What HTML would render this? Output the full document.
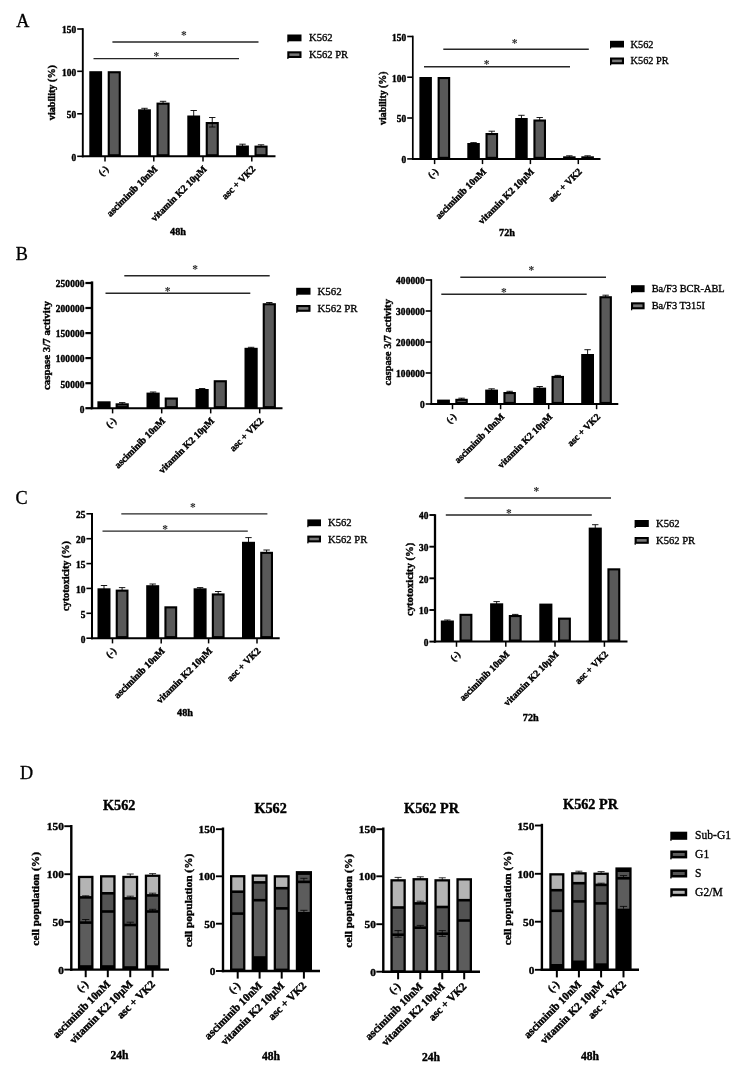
<!DOCTYPE html>
<html lang="en">
<head>
<meta charset="utf-8">
<title>Figure</title>
<style>
html,body{margin:0;padding:0;background:#fff;}
body{width:744px;height:1076px;overflow:hidden;font-family:"Liberation Serif","Times New Roman",serif;}
svg{display:block;}
</style>
</head>
<body>
<svg width="744" height="1076" viewBox="0 0 744 1076">
<rect x="0" y="0" width="744" height="1076" fill="#fff"/>
<g font-family="'Liberation Serif', 'Times New Roman', serif">
<text x="16.3" y="27" font-size="18.2" stroke="#000" stroke-width="0.32">A</text>
<text x="15.8" y="260.2" font-size="18.2" stroke="#000" stroke-width="0.32">B</text>
<text x="15.6" y="503.6" font-size="18.2" stroke="#000" stroke-width="0.32">C</text>
<text x="20.1" y="779.2" font-size="18.2" stroke="#000" stroke-width="0.32">D</text>
<rect x="89.3" y="71.2" width="12.8" height="85.1" fill="#000"/>
<rect x="108.75" y="72.25" width="11" height="83" fill="#595959" stroke="#000" stroke-width="2.1"/>
<line x1="144.5" y1="108.3" x2="144.5" y2="110.3" stroke="#000" stroke-width="0.9"/>
<line x1="141.3" y1="108.3" x2="147.7" y2="108.3" stroke="#000" stroke-width="0.9"/>
<line x1="163.05" y1="101.3" x2="163.05" y2="103.6" stroke="#000" stroke-width="0.9"/>
<line x1="159.85" y1="101.3" x2="166.25" y2="101.3" stroke="#000" stroke-width="0.9"/>
<rect x="138.1" y="109.3" width="12.8" height="47" fill="#000"/>
<rect x="157.55" y="103.65" width="11" height="51.6" fill="#595959" stroke="#000" stroke-width="2.1"/>
<line x1="193.7" y1="110.5" x2="193.7" y2="116.5" stroke="#000" stroke-width="0.9"/>
<line x1="190.5" y1="110.5" x2="196.9" y2="110.5" stroke="#000" stroke-width="0.9"/>
<line x1="212.25" y1="117.5" x2="212.25" y2="123" stroke="#000" stroke-width="0.9"/>
<line x1="209.05" y1="117.5" x2="215.45" y2="117.5" stroke="#000" stroke-width="0.9"/>
<rect x="187.3" y="115.5" width="12.8" height="40.8" fill="#000"/>
<rect x="206.75" y="123.05" width="11" height="32.2" fill="#595959" stroke="#000" stroke-width="2.1"/>
<line x1="212.25" y1="122" x2="212.25" y2="127" stroke="#000" stroke-width="0.9"/>
<line x1="209.05" y1="127" x2="215.45" y2="127" stroke="#000" stroke-width="0.9"/>
<line x1="242.5" y1="144.2" x2="242.5" y2="146.5" stroke="#000" stroke-width="0.9"/>
<line x1="239.3" y1="144.2" x2="245.7" y2="144.2" stroke="#000" stroke-width="0.9"/>
<line x1="261.05" y1="144.8" x2="261.05" y2="146.6" stroke="#000" stroke-width="0.9"/>
<line x1="257.85" y1="144.8" x2="264.25" y2="144.8" stroke="#000" stroke-width="0.9"/>
<rect x="236.1" y="145.5" width="12.8" height="10.8" fill="#000"/>
<rect x="255.55" y="146.65" width="11" height="8.6" fill="#595959" stroke="#000" stroke-width="2.1"/>
<line x1="82.8" y1="28.2" x2="82.8" y2="157.3" stroke="#000" stroke-width="1.9"/>
<line x1="81.85" y1="156.3" x2="275.5" y2="156.3" stroke="#000" stroke-width="2"/>
<line x1="77.2" y1="29" x2="82.8" y2="29" stroke="#000" stroke-width="1.6"/>
<text x="76.4" y="33.3" font-size="9.4" font-weight="bold" stroke="#000" stroke-width="0.4" text-anchor="end" letter-spacing="0.12">150</text>
<line x1="77.2" y1="71.3" x2="82.8" y2="71.3" stroke="#000" stroke-width="1.6"/>
<text x="76.4" y="75.6" font-size="9.4" font-weight="bold" stroke="#000" stroke-width="0.4" text-anchor="end" letter-spacing="0.12">100</text>
<line x1="77.2" y1="113.8" x2="82.8" y2="113.8" stroke="#000" stroke-width="1.6"/>
<text x="76.4" y="118.1" font-size="9.4" font-weight="bold" stroke="#000" stroke-width="0.4" text-anchor="end" letter-spacing="0.12">50</text>
<line x1="77.2" y1="156.3" x2="82.8" y2="156.3" stroke="#000" stroke-width="1.6"/>
<text x="76.4" y="160.6" font-size="9.4" font-weight="bold" stroke="#000" stroke-width="0.4" text-anchor="end" letter-spacing="0.12">0</text>
<line x1="105" y1="156.3" x2="105" y2="161.5" stroke="#000" stroke-width="1.5"/>
<text x="109.2" y="169.6" font-size="9.8" font-weight="bold" stroke="#000" stroke-width="0.4" text-anchor="end" transform="rotate(-45 109.2 169.6)">(-)</text>
<line x1="153.8" y1="156.3" x2="153.8" y2="161.5" stroke="#000" stroke-width="1.5"/>
<text x="158" y="169.6" font-size="9.8" font-weight="bold" stroke="#000" stroke-width="0.4" text-anchor="end" transform="rotate(-45 158 169.6)">asciminib 10nM</text>
<line x1="203" y1="156.3" x2="203" y2="161.5" stroke="#000" stroke-width="1.5"/>
<text x="207.2" y="169.6" font-size="9.8" font-weight="bold" stroke="#000" stroke-width="0.4" text-anchor="end" transform="rotate(-45 207.2 169.6)">vitamin K2 10µM</text>
<line x1="251.8" y1="156.3" x2="251.8" y2="161.5" stroke="#000" stroke-width="1.5"/>
<text x="256" y="169.6" font-size="9.8" font-weight="bold" stroke="#000" stroke-width="0.4" text-anchor="end" transform="rotate(-45 256 169.6)">asc + VK2</text>
<text x="54.8" y="92.6" font-size="10.2" font-weight="bold" stroke="#000" stroke-width="0.4" text-anchor="middle" transform="rotate(-90 54.8 92.6)">viability (%)</text>
<line x1="112.4" y1="42" x2="258.5" y2="42" stroke="#262626" stroke-width="1.4"/>
<text x="183.8" y="39.2" font-size="11.5" font-weight="bold" text-anchor="middle" fill="#2a2a2a">*</text>
<line x1="93.5" y1="58.6" x2="239" y2="58.6" stroke="#262626" stroke-width="1.4"/>
<text x="156.3" y="60.3" font-size="11.5" font-weight="bold" text-anchor="middle" fill="#2a2a2a">*</text>
<rect x="287.3" y="34.5" width="14.2" height="6.8" fill="#000"/>
<rect x="287.3" y="40.8" width="1.2" height="1.5" fill="#000"/>
<text x="309" y="41.4" font-size="10.6" stroke="#000" stroke-width="0.32">K562</text>
<rect x="288.35" y="52.35" width="12.1" height="4.6" fill="#777" stroke="#000" stroke-width="2.1"/>
<rect x="287.3" y="57.5" width="1.2" height="1.5" fill="#000"/>
<text x="309" y="58.1" font-size="10.6" stroke="#000" stroke-width="0.32">K562 PR</text>
<text x="178" y="235.2" font-size="10.2" font-weight="bold" stroke="#000" stroke-width="0.4" text-anchor="middle">48h</text>
<rect x="419.4" y="77" width="12.5" height="81.9" fill="#000"/>
<rect x="438.65" y="78.05" width="10.5" height="79.8" fill="#595959" stroke="#000" stroke-width="2.1"/>
<line x1="473.55" y1="142.6" x2="473.55" y2="144" stroke="#000" stroke-width="0.9"/>
<line x1="470.35" y1="142.6" x2="476.75" y2="142.6" stroke="#000" stroke-width="0.9"/>
<line x1="491.8" y1="131.2" x2="491.8" y2="134" stroke="#000" stroke-width="0.9"/>
<line x1="488.6" y1="131.2" x2="495" y2="131.2" stroke="#000" stroke-width="0.9"/>
<rect x="467.3" y="143" width="12.5" height="15.9" fill="#000"/>
<rect x="486.55" y="134.05" width="10.5" height="23.8" fill="#595959" stroke="#000" stroke-width="2.1"/>
<line x1="521.45" y1="115.3" x2="521.45" y2="119" stroke="#000" stroke-width="0.9"/>
<line x1="518.25" y1="115.3" x2="524.65" y2="115.3" stroke="#000" stroke-width="0.9"/>
<line x1="539.7" y1="117.5" x2="539.7" y2="120.5" stroke="#000" stroke-width="0.9"/>
<line x1="536.5" y1="117.5" x2="542.9" y2="117.5" stroke="#000" stroke-width="0.9"/>
<rect x="515.2" y="118" width="12.5" height="40.9" fill="#000"/>
<rect x="534.45" y="120.55" width="10.5" height="37.3" fill="#595959" stroke="#000" stroke-width="2.1"/>
<line x1="569.35" y1="155.8" x2="569.35" y2="157.3" stroke="#000" stroke-width="0.9"/>
<line x1="566.15" y1="155.8" x2="572.55" y2="155.8" stroke="#000" stroke-width="0.9"/>
<line x1="587.6" y1="155.8" x2="587.6" y2="157.3" stroke="#000" stroke-width="0.9"/>
<line x1="584.4" y1="155.8" x2="590.8" y2="155.8" stroke="#000" stroke-width="0.9"/>
<rect x="563.1" y="156.3" width="12.5" height="2.6" fill="#000"/>
<rect x="582.35" y="157.35" width="10.5" height="0.5" fill="#595959" stroke="#000" stroke-width="2.1"/>
<line x1="412.8" y1="35.7" x2="412.8" y2="159.9" stroke="#000" stroke-width="1.7"/>
<line x1="411.95" y1="158.9" x2="600.5" y2="158.9" stroke="#000" stroke-width="2"/>
<line x1="407.2" y1="36.5" x2="412.8" y2="36.5" stroke="#000" stroke-width="1.6"/>
<text x="406.4" y="40.8" font-size="9.4" font-weight="bold" stroke="#000" stroke-width="0.4" text-anchor="end" letter-spacing="0.12">150</text>
<line x1="407.2" y1="77.2" x2="412.8" y2="77.2" stroke="#000" stroke-width="1.6"/>
<text x="406.4" y="81.5" font-size="9.4" font-weight="bold" stroke="#000" stroke-width="0.4" text-anchor="end" letter-spacing="0.12">100</text>
<line x1="407.2" y1="118" x2="412.8" y2="118" stroke="#000" stroke-width="1.6"/>
<text x="406.4" y="122.3" font-size="9.4" font-weight="bold" stroke="#000" stroke-width="0.4" text-anchor="end" letter-spacing="0.12">50</text>
<line x1="407.2" y1="158.9" x2="412.8" y2="158.9" stroke="#000" stroke-width="1.6"/>
<text x="406.4" y="163.2" font-size="9.4" font-weight="bold" stroke="#000" stroke-width="0.4" text-anchor="end" letter-spacing="0.12">0</text>
<line x1="434.6" y1="158.9" x2="434.6" y2="164.1" stroke="#000" stroke-width="1.5"/>
<text x="438.8" y="172.2" font-size="9.8" font-weight="bold" stroke="#000" stroke-width="0.4" text-anchor="end" transform="rotate(-45 438.8 172.2)">(-)</text>
<line x1="482.5" y1="158.9" x2="482.5" y2="164.1" stroke="#000" stroke-width="1.5"/>
<text x="486.7" y="172.2" font-size="9.8" font-weight="bold" stroke="#000" stroke-width="0.4" text-anchor="end" transform="rotate(-45 486.7 172.2)">asciminib 10nM</text>
<line x1="530.4" y1="158.9" x2="530.4" y2="164.1" stroke="#000" stroke-width="1.5"/>
<text x="534.6" y="172.2" font-size="9.8" font-weight="bold" stroke="#000" stroke-width="0.4" text-anchor="end" transform="rotate(-45 534.6 172.2)">vitamin K2 10µM</text>
<line x1="578.3" y1="158.9" x2="578.3" y2="164.1" stroke="#000" stroke-width="1.5"/>
<text x="582.5" y="172.2" font-size="9.8" font-weight="bold" stroke="#000" stroke-width="0.4" text-anchor="end" transform="rotate(-45 582.5 172.2)">asc + VK2</text>
<text x="386.5" y="98.2" font-size="9.9" font-weight="bold" stroke="#000" stroke-width="0.4" text-anchor="middle" transform="rotate(-90 386.5 98.2)">viability (%)</text>
<line x1="443.3" y1="49.3" x2="588.8" y2="49.3" stroke="#262626" stroke-width="1.4"/>
<text x="514.5" y="46.5" font-size="11.5" font-weight="bold" text-anchor="middle" fill="#2a2a2a">*</text>
<line x1="424" y1="66.7" x2="570" y2="66.7" stroke="#262626" stroke-width="1.4"/>
<text x="486.5" y="68.4" font-size="11.5" font-weight="bold" text-anchor="middle" fill="#2a2a2a">*</text>
<rect x="610" y="40.8" width="14" height="6.7" fill="#000"/>
<rect x="610" y="47" width="1.2" height="1.5" fill="#000"/>
<text x="630.6" y="47.6" font-size="10.3" stroke="#000" stroke-width="0.32">K562</text>
<rect x="611.05" y="58.55" width="11.9" height="4.7" fill="#777" stroke="#000" stroke-width="2.1"/>
<rect x="610" y="63.8" width="1.2" height="1.5" fill="#000"/>
<text x="630.6" y="64.4" font-size="10.3" stroke="#000" stroke-width="0.32">K562 PR</text>
<text x="507" y="236.3" font-size="10.2" font-weight="bold" stroke="#000" stroke-width="0.4" text-anchor="middle">72h</text>
<line x1="122.2" y1="402.6" x2="122.2" y2="404.3" stroke="#000" stroke-width="0.9"/>
<line x1="119" y1="402.6" x2="125.4" y2="402.6" stroke="#000" stroke-width="0.9"/>
<rect x="97.4" y="401.3" width="13.2" height="6.9" fill="#000"/>
<rect x="116.65" y="404.35" width="11.1" height="2.8" fill="#595959" stroke="#000" stroke-width="2.1"/>
<line x1="153.1" y1="392" x2="153.1" y2="393.6" stroke="#000" stroke-width="0.9"/>
<line x1="149.9" y1="392" x2="156.3" y2="392" stroke="#000" stroke-width="0.9"/>
<rect x="146.5" y="392.6" width="13.2" height="15.6" fill="#000"/>
<rect x="165.75" y="398.55" width="11.1" height="8.6" fill="#595959" stroke="#000" stroke-width="2.1"/>
<line x1="202.1" y1="388.5" x2="202.1" y2="390" stroke="#000" stroke-width="0.9"/>
<line x1="198.9" y1="388.5" x2="205.3" y2="388.5" stroke="#000" stroke-width="0.9"/>
<rect x="195.5" y="389" width="13.2" height="19.2" fill="#000"/>
<rect x="214.75" y="381.25" width="11.1" height="25.9" fill="#595959" stroke="#000" stroke-width="2.1"/>
<line x1="251.1" y1="347.3" x2="251.1" y2="348.8" stroke="#000" stroke-width="0.9"/>
<line x1="247.9" y1="347.3" x2="254.3" y2="347.3" stroke="#000" stroke-width="0.9"/>
<line x1="269.3" y1="302.5" x2="269.3" y2="304.2" stroke="#000" stroke-width="0.9"/>
<line x1="266.1" y1="302.5" x2="272.5" y2="302.5" stroke="#000" stroke-width="0.9"/>
<rect x="244.5" y="347.8" width="13.2" height="60.4" fill="#000"/>
<rect x="263.75" y="304.25" width="11.1" height="102.9" fill="#595959" stroke="#000" stroke-width="2.1"/>
<line x1="92" y1="281.4" x2="92" y2="409.2" stroke="#000" stroke-width="2.5"/>
<line x1="90.75" y1="408.2" x2="282.5" y2="408.2" stroke="#000" stroke-width="2"/>
<line x1="85.4" y1="283" x2="92" y2="283" stroke="#000" stroke-width="2.2"/>
<text x="84.6" y="287.3" font-size="9.4" font-weight="bold" stroke="#000" stroke-width="0.4" text-anchor="end" letter-spacing="0.12">250000</text>
<line x1="85.4" y1="308" x2="92" y2="308" stroke="#000" stroke-width="2.2"/>
<text x="84.6" y="312.3" font-size="9.4" font-weight="bold" stroke="#000" stroke-width="0.4" text-anchor="end" letter-spacing="0.12">200000</text>
<line x1="85.4" y1="333.1" x2="92" y2="333.1" stroke="#000" stroke-width="2.2"/>
<text x="84.6" y="337.4" font-size="9.4" font-weight="bold" stroke="#000" stroke-width="0.4" text-anchor="end" letter-spacing="0.12">150000</text>
<line x1="85.4" y1="358.1" x2="92" y2="358.1" stroke="#000" stroke-width="2.2"/>
<text x="84.6" y="362.4" font-size="9.4" font-weight="bold" stroke="#000" stroke-width="0.4" text-anchor="end" letter-spacing="0.12">100000</text>
<line x1="85.4" y1="383.2" x2="92" y2="383.2" stroke="#000" stroke-width="2.2"/>
<text x="84.6" y="387.5" font-size="9.4" font-weight="bold" stroke="#000" stroke-width="0.4" text-anchor="end" letter-spacing="0.12">50000</text>
<line x1="85.4" y1="408.2" x2="92" y2="408.2" stroke="#000" stroke-width="2.2"/>
<text x="84.6" y="412.5" font-size="9.4" font-weight="bold" stroke="#000" stroke-width="0.4" text-anchor="end" letter-spacing="0.12">0</text>
<line x1="112.6" y1="408.2" x2="112.6" y2="413.4" stroke="#000" stroke-width="1.5"/>
<text x="116.8" y="421.5" font-size="9.8" font-weight="bold" stroke="#000" stroke-width="0.4" text-anchor="end" transform="rotate(-45 116.8 421.5)">(-)</text>
<line x1="161.7" y1="408.2" x2="161.7" y2="413.4" stroke="#000" stroke-width="1.5"/>
<text x="165.9" y="421.5" font-size="9.8" font-weight="bold" stroke="#000" stroke-width="0.4" text-anchor="end" transform="rotate(-45 165.9 421.5)">asciminib 10nM</text>
<line x1="210.7" y1="408.2" x2="210.7" y2="413.4" stroke="#000" stroke-width="1.5"/>
<text x="214.9" y="421.5" font-size="9.8" font-weight="bold" stroke="#000" stroke-width="0.4" text-anchor="end" transform="rotate(-45 214.9 421.5)">vitamin K2 10µM</text>
<line x1="259.7" y1="408.2" x2="259.7" y2="413.4" stroke="#000" stroke-width="1.5"/>
<text x="263.9" y="421.5" font-size="9.8" font-weight="bold" stroke="#000" stroke-width="0.4" text-anchor="end" transform="rotate(-45 263.9 421.5)">asc + VK2</text>
<text x="49.6" y="345.6" font-size="10.9" font-weight="bold" stroke="#000" stroke-width="0.4" text-anchor="middle" transform="rotate(-90 49.6 345.6)">caspase 3/7 activity</text>
<line x1="124.3" y1="275.8" x2="269.7" y2="275.8" stroke="#262626" stroke-width="1.4"/>
<text x="195" y="273" font-size="11.5" font-weight="bold" text-anchor="middle" fill="#2a2a2a">*</text>
<line x1="105.5" y1="293.3" x2="250.3" y2="293.3" stroke="#262626" stroke-width="1.4"/>
<text x="167.6" y="295" font-size="11.5" font-weight="bold" text-anchor="middle" fill="#2a2a2a">*</text>
<rect x="296.2" y="287.8" width="14.3" height="6.9" fill="#000"/>
<rect x="296.2" y="294.2" width="1.2" height="1.5" fill="#000"/>
<text x="317.4" y="294.8" font-size="10.9" stroke="#000" stroke-width="0.32">K562</text>
<rect x="297.25" y="306.05" width="12.2" height="4.7" fill="#777" stroke="#000" stroke-width="2.1"/>
<rect x="296.2" y="311.3" width="1.2" height="1.5" fill="#000"/>
<text x="317.4" y="311.9" font-size="10.9" stroke="#000" stroke-width="0.32">K562 PR</text>
<line x1="461.55" y1="398.2" x2="461.55" y2="399.8" stroke="#000" stroke-width="0.9"/>
<line x1="458.35" y1="398.2" x2="464.75" y2="398.2" stroke="#000" stroke-width="0.9"/>
<rect x="437.1" y="399.6" width="12.8" height="4.4" fill="#000"/>
<rect x="456.35" y="399.85" width="10.4" height="3.1" fill="#595959" stroke="#000" stroke-width="2.1"/>
<line x1="491.6" y1="388.8" x2="491.6" y2="390.6" stroke="#000" stroke-width="0.9"/>
<line x1="488.4" y1="388.8" x2="494.8" y2="388.8" stroke="#000" stroke-width="0.9"/>
<line x1="509.65" y1="391.3" x2="509.65" y2="393" stroke="#000" stroke-width="0.9"/>
<line x1="506.45" y1="391.3" x2="512.85" y2="391.3" stroke="#000" stroke-width="0.9"/>
<rect x="485.2" y="389.6" width="12.8" height="14.4" fill="#000"/>
<rect x="504.45" y="393.05" width="10.4" height="9.9" fill="#595959" stroke="#000" stroke-width="2.1"/>
<line x1="539.7" y1="386.5" x2="539.7" y2="388.6" stroke="#000" stroke-width="0.9"/>
<line x1="536.5" y1="386.5" x2="542.9" y2="386.5" stroke="#000" stroke-width="0.9"/>
<line x1="557.75" y1="375.4" x2="557.75" y2="376.9" stroke="#000" stroke-width="0.9"/>
<line x1="554.55" y1="375.4" x2="560.95" y2="375.4" stroke="#000" stroke-width="0.9"/>
<rect x="533.3" y="387.6" width="12.8" height="16.4" fill="#000"/>
<rect x="552.55" y="376.95" width="10.4" height="26" fill="#595959" stroke="#000" stroke-width="2.1"/>
<line x1="587.6" y1="349.7" x2="587.6" y2="355" stroke="#000" stroke-width="0.9"/>
<line x1="584.4" y1="349.7" x2="590.8" y2="349.7" stroke="#000" stroke-width="0.9"/>
<line x1="605.65" y1="295.2" x2="605.65" y2="297.2" stroke="#000" stroke-width="0.9"/>
<line x1="602.45" y1="295.2" x2="608.85" y2="295.2" stroke="#000" stroke-width="0.9"/>
<rect x="581.2" y="354" width="12.8" height="50" fill="#000"/>
<rect x="600.45" y="297.25" width="10.4" height="105.7" fill="#595959" stroke="#000" stroke-width="2.1"/>
<line x1="431.3" y1="279.2" x2="431.3" y2="405" stroke="#000" stroke-width="1.7"/>
<line x1="430.45" y1="404" x2="618.3" y2="404" stroke="#000" stroke-width="2"/>
<line x1="425.7" y1="280" x2="431.3" y2="280" stroke="#000" stroke-width="1.6"/>
<text x="424.9" y="284.3" font-size="9.4" font-weight="bold" stroke="#000" stroke-width="0.4" text-anchor="end" letter-spacing="0.12">400000</text>
<line x1="425.7" y1="311" x2="431.3" y2="311" stroke="#000" stroke-width="1.6"/>
<text x="424.9" y="315.3" font-size="9.4" font-weight="bold" stroke="#000" stroke-width="0.4" text-anchor="end" letter-spacing="0.12">300000</text>
<line x1="425.7" y1="342" x2="431.3" y2="342" stroke="#000" stroke-width="1.6"/>
<text x="424.9" y="346.3" font-size="9.4" font-weight="bold" stroke="#000" stroke-width="0.4" text-anchor="end" letter-spacing="0.12">200000</text>
<line x1="425.7" y1="373" x2="431.3" y2="373" stroke="#000" stroke-width="1.6"/>
<text x="424.9" y="377.3" font-size="9.4" font-weight="bold" stroke="#000" stroke-width="0.4" text-anchor="end" letter-spacing="0.12">100000</text>
<line x1="425.7" y1="404" x2="431.3" y2="404" stroke="#000" stroke-width="1.6"/>
<text x="424.9" y="408.3" font-size="9.4" font-weight="bold" stroke="#000" stroke-width="0.4" text-anchor="end" letter-spacing="0.12">0</text>
<line x1="452.5" y1="404" x2="452.5" y2="409.2" stroke="#000" stroke-width="1.5"/>
<text x="456.7" y="417.3" font-size="9.6" font-weight="bold" stroke="#000" stroke-width="0.4" text-anchor="end" transform="rotate(-45 456.7 417.3)">(-)</text>
<line x1="500.6" y1="404" x2="500.6" y2="409.2" stroke="#000" stroke-width="1.5"/>
<text x="504.8" y="417.3" font-size="9.6" font-weight="bold" stroke="#000" stroke-width="0.4" text-anchor="end" transform="rotate(-45 504.8 417.3)">asciminib 10nM</text>
<line x1="548.7" y1="404" x2="548.7" y2="409.2" stroke="#000" stroke-width="1.5"/>
<text x="552.9" y="417.3" font-size="9.6" font-weight="bold" stroke="#000" stroke-width="0.4" text-anchor="end" transform="rotate(-45 552.9 417.3)">vitamin K2 10µM</text>
<line x1="596.6" y1="404" x2="596.6" y2="409.2" stroke="#000" stroke-width="1.5"/>
<text x="600.8" y="417.3" font-size="9.6" font-weight="bold" stroke="#000" stroke-width="0.4" text-anchor="end" transform="rotate(-45 600.8 417.3)">asc + VK2</text>
<text x="390.6" y="342.3" font-size="10.6" font-weight="bold" stroke="#000" stroke-width="0.4" text-anchor="middle" transform="rotate(-90 390.6 342.3)">caspase 3/7 activity</text>
<line x1="460.3" y1="277.2" x2="606" y2="277.2" stroke="#262626" stroke-width="1.4"/>
<text x="531.3" y="274.4" font-size="11.5" font-weight="bold" text-anchor="middle" fill="#2a2a2a">*</text>
<line x1="441.3" y1="294.2" x2="586.7" y2="294.2" stroke="#262626" stroke-width="1.4"/>
<text x="503.8" y="295.9" font-size="11.5" font-weight="bold" text-anchor="middle" fill="#2a2a2a">*</text>
<rect x="631" y="285.2" width="13.6" height="7" fill="#000"/>
<rect x="631" y="291.7" width="1.2" height="1.5" fill="#000"/>
<text x="651.7" y="292.3" font-size="10.4" stroke="#000" stroke-width="0.32">Ba/F3 BCR-ABL</text>
<rect x="632.05" y="303.35" width="11.5" height="4.9" fill="#777" stroke="#000" stroke-width="2.1"/>
<rect x="631" y="308.8" width="1.2" height="1.5" fill="#000"/>
<text x="651.7" y="309.4" font-size="10.4" stroke="#000" stroke-width="0.32">Ba/F3 T315I</text>
<line x1="104" y1="585.5" x2="104" y2="589.3" stroke="#000" stroke-width="0.9"/>
<line x1="100.8" y1="585.5" x2="107.2" y2="585.5" stroke="#000" stroke-width="0.9"/>
<line x1="122.1" y1="587.6" x2="122.1" y2="590.6" stroke="#000" stroke-width="0.9"/>
<line x1="118.9" y1="587.6" x2="125.3" y2="587.6" stroke="#000" stroke-width="0.9"/>
<rect x="97.5" y="588.3" width="13" height="49.9" fill="#000"/>
<rect x="116.75" y="590.65" width="10.7" height="46.5" fill="#595959" stroke="#000" stroke-width="2.1"/>
<line x1="152.7" y1="584" x2="152.7" y2="586.2" stroke="#000" stroke-width="0.9"/>
<line x1="149.5" y1="584" x2="155.9" y2="584" stroke="#000" stroke-width="0.9"/>
<rect x="146.2" y="585.2" width="13" height="53" fill="#000"/>
<rect x="165.45" y="607.35" width="10.7" height="29.8" fill="#595959" stroke="#000" stroke-width="2.1"/>
<line x1="200.1" y1="587.6" x2="200.1" y2="589.3" stroke="#000" stroke-width="0.9"/>
<line x1="196.9" y1="587.6" x2="203.3" y2="587.6" stroke="#000" stroke-width="0.9"/>
<line x1="218.2" y1="591.5" x2="218.2" y2="594.4" stroke="#000" stroke-width="0.9"/>
<line x1="215" y1="591.5" x2="221.4" y2="591.5" stroke="#000" stroke-width="0.9"/>
<rect x="193.6" y="588.3" width="13" height="49.9" fill="#000"/>
<rect x="212.85" y="594.45" width="10.7" height="42.7" fill="#595959" stroke="#000" stroke-width="2.1"/>
<line x1="248.5" y1="537.6" x2="248.5" y2="542.8" stroke="#000" stroke-width="0.9"/>
<line x1="245.3" y1="537.6" x2="251.7" y2="537.6" stroke="#000" stroke-width="0.9"/>
<line x1="266.6" y1="550" x2="266.6" y2="552.8" stroke="#000" stroke-width="0.9"/>
<line x1="263.4" y1="550" x2="269.8" y2="550" stroke="#000" stroke-width="0.9"/>
<rect x="242" y="541.8" width="13" height="96.4" fill="#000"/>
<rect x="261.25" y="552.85" width="10.7" height="84.3" fill="#595959" stroke="#000" stroke-width="2.1"/>
<line x1="92" y1="513" x2="92" y2="639.2" stroke="#000" stroke-width="2"/>
<line x1="91" y1="638.2" x2="279.7" y2="638.2" stroke="#000" stroke-width="2"/>
<line x1="86.4" y1="513.8" x2="92" y2="513.8" stroke="#000" stroke-width="1.6"/>
<text x="85.6" y="518.1" font-size="9.4" font-weight="bold" stroke="#000" stroke-width="0.4" text-anchor="end" letter-spacing="0.12">25</text>
<line x1="86.4" y1="538.7" x2="92" y2="538.7" stroke="#000" stroke-width="1.6"/>
<text x="85.6" y="543" font-size="9.4" font-weight="bold" stroke="#000" stroke-width="0.4" text-anchor="end" letter-spacing="0.12">20</text>
<line x1="86.4" y1="563.6" x2="92" y2="563.6" stroke="#000" stroke-width="1.6"/>
<text x="85.6" y="567.9" font-size="9.4" font-weight="bold" stroke="#000" stroke-width="0.4" text-anchor="end" letter-spacing="0.12">15</text>
<line x1="86.4" y1="588.4" x2="92" y2="588.4" stroke="#000" stroke-width="1.6"/>
<text x="85.6" y="592.7" font-size="9.4" font-weight="bold" stroke="#000" stroke-width="0.4" text-anchor="end" letter-spacing="0.12">10</text>
<line x1="86.4" y1="613.3" x2="92" y2="613.3" stroke="#000" stroke-width="1.6"/>
<text x="85.6" y="617.6" font-size="9.4" font-weight="bold" stroke="#000" stroke-width="0.4" text-anchor="end" letter-spacing="0.12">5</text>
<line x1="86.4" y1="638.2" x2="92" y2="638.2" stroke="#000" stroke-width="1.6"/>
<text x="85.6" y="642.5" font-size="9.4" font-weight="bold" stroke="#000" stroke-width="0.4" text-anchor="end" letter-spacing="0.12">0</text>
<line x1="112.5" y1="638.2" x2="112.5" y2="643.4" stroke="#000" stroke-width="1.5"/>
<text x="116.7" y="651.5" font-size="9.8" font-weight="bold" stroke="#000" stroke-width="0.4" text-anchor="end" transform="rotate(-45 116.7 651.5)">(-)</text>
<line x1="161.2" y1="638.2" x2="161.2" y2="643.4" stroke="#000" stroke-width="1.5"/>
<text x="165.4" y="651.5" font-size="9.8" font-weight="bold" stroke="#000" stroke-width="0.4" text-anchor="end" transform="rotate(-45 165.4 651.5)">asciminib 10nM</text>
<line x1="208.6" y1="638.2" x2="208.6" y2="643.4" stroke="#000" stroke-width="1.5"/>
<text x="212.8" y="651.5" font-size="9.8" font-weight="bold" stroke="#000" stroke-width="0.4" text-anchor="end" transform="rotate(-45 212.8 651.5)">vitamin K2 10µM</text>
<line x1="257" y1="638.2" x2="257" y2="643.4" stroke="#000" stroke-width="1.5"/>
<text x="261.2" y="651.5" font-size="9.8" font-weight="bold" stroke="#000" stroke-width="0.4" text-anchor="end" transform="rotate(-45 261.2 651.5)">asc + VK2</text>
<text x="69.2" y="576" font-size="10.2" font-weight="bold" stroke="#000" stroke-width="0.4" text-anchor="middle" transform="rotate(-90 69.2 576)">cytotoxicity (%)</text>
<line x1="121.3" y1="513.9" x2="267.4" y2="513.9" stroke="#262626" stroke-width="1.4"/>
<text x="192.8" y="511.1" font-size="11.5" font-weight="bold" text-anchor="middle" fill="#2a2a2a">*</text>
<line x1="102.5" y1="531.1" x2="247.8" y2="531.1" stroke="#262626" stroke-width="1.4"/>
<text x="165.1" y="532.8" font-size="11.5" font-weight="bold" text-anchor="middle" fill="#2a2a2a">*</text>
<rect x="307.3" y="519.4" width="13.7" height="6.8" fill="#000"/>
<rect x="307.3" y="525.7" width="1.2" height="1.5" fill="#000"/>
<text x="328.1" y="526.3" font-size="10.6" stroke="#000" stroke-width="0.32">K562</text>
<rect x="308.35" y="536.65" width="11.6" height="4.7" fill="#777" stroke="#000" stroke-width="2.1"/>
<rect x="307.3" y="541.9" width="1.2" height="1.5" fill="#000"/>
<text x="328.1" y="542.5" font-size="10.6" stroke="#000" stroke-width="0.32">K562 PR</text>
<text x="185" y="716.2" font-size="10.2" font-weight="bold" stroke="#000" stroke-width="0.4" text-anchor="middle">48h</text>
<line x1="447.35" y1="620" x2="447.35" y2="621.5" stroke="#000" stroke-width="0.9"/>
<line x1="444.15" y1="620" x2="450.55" y2="620" stroke="#000" stroke-width="0.9"/>
<rect x="440.8" y="620.5" width="13.1" height="21.1" fill="#000"/>
<rect x="460.55" y="614.85" width="10.8" height="25.7" fill="#595959" stroke="#000" stroke-width="2.1"/>
<line x1="496.65" y1="601.6" x2="496.65" y2="604.3" stroke="#000" stroke-width="0.9"/>
<line x1="493.45" y1="601.6" x2="499.85" y2="601.6" stroke="#000" stroke-width="0.9"/>
<line x1="515.25" y1="614.4" x2="515.25" y2="616" stroke="#000" stroke-width="0.9"/>
<line x1="512.05" y1="614.4" x2="518.45" y2="614.4" stroke="#000" stroke-width="0.9"/>
<rect x="490.1" y="603.3" width="13.1" height="38.3" fill="#000"/>
<rect x="509.85" y="616.05" width="10.8" height="24.5" fill="#595959" stroke="#000" stroke-width="2.1"/>
<rect x="539.3" y="603.6" width="13.1" height="38" fill="#000"/>
<rect x="559.05" y="618.65" width="10.8" height="21.9" fill="#595959" stroke="#000" stroke-width="2.1"/>
<line x1="595.25" y1="524.7" x2="595.25" y2="528.6" stroke="#000" stroke-width="0.9"/>
<line x1="592.05" y1="524.7" x2="598.45" y2="524.7" stroke="#000" stroke-width="0.9"/>
<rect x="588.7" y="527.6" width="13.1" height="114" fill="#000"/>
<rect x="608.45" y="569.35" width="10.8" height="71.2" fill="#595959" stroke="#000" stroke-width="2.1"/>
<line x1="435" y1="514.2" x2="435" y2="642.6" stroke="#000" stroke-width="2.3"/>
<line x1="433.85" y1="641.6" x2="627.5" y2="641.6" stroke="#000" stroke-width="2"/>
<line x1="429.4" y1="515" x2="435" y2="515" stroke="#000" stroke-width="1.9"/>
<text x="428.6" y="519.3" font-size="9.4" font-weight="bold" stroke="#000" stroke-width="0.4" text-anchor="end" letter-spacing="0.12">40</text>
<line x1="429.4" y1="546.7" x2="435" y2="546.7" stroke="#000" stroke-width="1.9"/>
<text x="428.6" y="551" font-size="9.4" font-weight="bold" stroke="#000" stroke-width="0.4" text-anchor="end" letter-spacing="0.12">30</text>
<line x1="429.4" y1="578.3" x2="435" y2="578.3" stroke="#000" stroke-width="1.9"/>
<text x="428.6" y="582.6" font-size="9.4" font-weight="bold" stroke="#000" stroke-width="0.4" text-anchor="end" letter-spacing="0.12">20</text>
<line x1="429.4" y1="610" x2="435" y2="610" stroke="#000" stroke-width="1.9"/>
<text x="428.6" y="614.3" font-size="9.4" font-weight="bold" stroke="#000" stroke-width="0.4" text-anchor="end" letter-spacing="0.12">10</text>
<line x1="429.4" y1="641.6" x2="435" y2="641.6" stroke="#000" stroke-width="1.9"/>
<text x="428.6" y="645.9" font-size="9.4" font-weight="bold" stroke="#000" stroke-width="0.4" text-anchor="end" letter-spacing="0.12">0</text>
<line x1="456.5" y1="641.6" x2="456.5" y2="646.8" stroke="#000" stroke-width="1.5"/>
<text x="460.7" y="654.9" font-size="9.65" font-weight="bold" stroke="#000" stroke-width="0.4" text-anchor="end" transform="rotate(-45 460.7 654.9)">(-)</text>
<line x1="505.8" y1="641.6" x2="505.8" y2="646.8" stroke="#000" stroke-width="1.5"/>
<text x="510" y="654.9" font-size="9.65" font-weight="bold" stroke="#000" stroke-width="0.4" text-anchor="end" transform="rotate(-45 510 654.9)">asciminib 10nM</text>
<line x1="555" y1="641.6" x2="555" y2="646.8" stroke="#000" stroke-width="1.5"/>
<text x="559.2" y="654.9" font-size="9.65" font-weight="bold" stroke="#000" stroke-width="0.4" text-anchor="end" transform="rotate(-45 559.2 654.9)">vitamin K2 10µM</text>
<line x1="604.4" y1="641.6" x2="604.4" y2="646.8" stroke="#000" stroke-width="1.5"/>
<text x="608.6" y="654.9" font-size="9.65" font-weight="bold" stroke="#000" stroke-width="0.4" text-anchor="end" transform="rotate(-45 608.6 654.9)">asc + VK2</text>
<text x="413" y="579.4" font-size="10.7" font-weight="bold" stroke="#000" stroke-width="0.4" text-anchor="middle" transform="rotate(-90 413 579.4)">cytotoxicity (%)</text>
<line x1="464.5" y1="498" x2="611" y2="498" stroke="#262626" stroke-width="1.4"/>
<text x="536.3" y="495.2" font-size="11.5" font-weight="bold" text-anchor="middle" fill="#2a2a2a">*</text>
<line x1="445.8" y1="515" x2="591.8" y2="515" stroke="#262626" stroke-width="1.4"/>
<text x="508.8" y="516.7" font-size="11.5" font-weight="bold" text-anchor="middle" fill="#2a2a2a">*</text>
<rect x="634.6" y="520" width="14.2" height="7" fill="#000"/>
<rect x="634.6" y="526.5" width="1.2" height="1.5" fill="#000"/>
<text x="656" y="527.1" font-size="10.6" stroke="#000" stroke-width="0.32">K562</text>
<rect x="635.65" y="538.05" width="12.1" height="4.7" fill="#777" stroke="#000" stroke-width="2.1"/>
<rect x="634.6" y="543.3" width="1.2" height="1.5" fill="#000"/>
<text x="656" y="543.9" font-size="10.6" stroke="#000" stroke-width="0.32">K562 PR</text>
<text x="530.8" y="721" font-size="10.2" font-weight="bold" stroke="#000" stroke-width="0.4" text-anchor="middle">72h</text>
<rect x="77.9" y="875.8" width="15.6" height="93.8" fill="#000"/>
<rect x="80.2" y="878.1" width="11" height="18" fill="#b4b4b4"/>
<rect x="80.2" y="898.7" width="11" height="22.6" fill="#535353"/>
<rect x="80.2" y="923.9" width="11" height="41.3" fill="#5c5c5c"/>
<line x1="82.1" y1="919.5" x2="89.3" y2="919.5" stroke="#000" stroke-width="0.8"/>
<line x1="85.7" y1="919.5" x2="85.7" y2="922.6" stroke="#000" stroke-width="0.8"/>
<line x1="82.1" y1="895.8" x2="89.3" y2="895.8" stroke="#000" stroke-width="0.8"/>
<line x1="85.7" y1="895.8" x2="85.7" y2="897.4" stroke="#000" stroke-width="0.8"/>
<rect x="100" y="875.2" width="15.6" height="94.4" fill="#000"/>
<rect x="102.3" y="877.5" width="11" height="14.5" fill="#b4b4b4"/>
<rect x="102.3" y="894.6" width="11" height="15.6" fill="#535353"/>
<rect x="102.3" y="912.8" width="11" height="52.4" fill="#5c5c5c"/>
<line x1="130.25" y1="874" x2="130.25" y2="877" stroke="#000" stroke-width="0.8"/>
<line x1="126.75" y1="874" x2="133.75" y2="874" stroke="#000" stroke-width="0.8"/>
<rect x="122.3" y="875.8" width="15.9" height="93.8" fill="#000"/>
<rect x="124.6" y="878.1" width="11.3" height="19" fill="#b4b4b4"/>
<rect x="124.6" y="899.7" width="11.3" height="24" fill="#535353"/>
<rect x="124.6" y="926.3" width="11.3" height="39.9" fill="#5c5c5c"/>
<line x1="126.65" y1="922.2" x2="133.85" y2="922.2" stroke="#000" stroke-width="0.8"/>
<line x1="130.25" y1="922.2" x2="130.25" y2="925" stroke="#000" stroke-width="0.8"/>
<line x1="126.65" y1="896.2" x2="133.85" y2="896.2" stroke="#000" stroke-width="0.8"/>
<line x1="130.25" y1="896.2" x2="130.25" y2="898.4" stroke="#000" stroke-width="0.8"/>
<line x1="152.6" y1="873.6" x2="152.6" y2="876.6" stroke="#000" stroke-width="0.8"/>
<line x1="149.1" y1="873.6" x2="156.1" y2="873.6" stroke="#000" stroke-width="0.8"/>
<rect x="144.8" y="874.6" width="15.6" height="95" fill="#000"/>
<rect x="147.1" y="876.9" width="11" height="17.2" fill="#b4b4b4"/>
<rect x="147.1" y="896.7" width="11" height="13.5" fill="#535353"/>
<rect x="147.1" y="912.8" width="11" height="52.4" fill="#5c5c5c"/>
<line x1="149" y1="909.3" x2="156.2" y2="909.3" stroke="#000" stroke-width="0.8"/>
<line x1="152.6" y1="909.3" x2="152.6" y2="911.5" stroke="#000" stroke-width="0.8"/>
<line x1="149" y1="893.2" x2="156.2" y2="893.2" stroke="#000" stroke-width="0.8"/>
<line x1="152.6" y1="893.2" x2="152.6" y2="895.4" stroke="#000" stroke-width="0.8"/>
<line x1="71.3" y1="825" x2="71.3" y2="970.8" stroke="#000" stroke-width="2.4"/>
<line x1="70.1" y1="969.6" x2="169" y2="969.6" stroke="#000" stroke-width="2.4"/>
<line x1="64.3" y1="826.2" x2="71.3" y2="826.2" stroke="#000" stroke-width="1.9"/>
<text x="63.8" y="830.3" font-size="11.3" font-weight="bold" stroke="#000" stroke-width="0.4" text-anchor="end">150</text>
<line x1="64.3" y1="874.2" x2="71.3" y2="874.2" stroke="#000" stroke-width="1.9"/>
<text x="63.8" y="878.3" font-size="11.3" font-weight="bold" stroke="#000" stroke-width="0.4" text-anchor="end">100</text>
<line x1="64.3" y1="921.8" x2="71.3" y2="921.8" stroke="#000" stroke-width="1.9"/>
<text x="63.8" y="925.9" font-size="11.3" font-weight="bold" stroke="#000" stroke-width="0.4" text-anchor="end">50</text>
<line x1="64.3" y1="969.6" x2="71.3" y2="969.6" stroke="#000" stroke-width="1.9"/>
<text x="63.8" y="973.7" font-size="11.3" font-weight="bold" stroke="#000" stroke-width="0.4" text-anchor="end">0</text>
<line x1="85.7" y1="969.6" x2="85.7" y2="977.2" stroke="#000" stroke-width="2"/>
<text x="88.8" y="984.9" font-size="11.1" font-weight="bold" stroke="#000" stroke-width="0.4" text-anchor="end" transform="rotate(-45 88.8 984.9)">(-)</text>
<line x1="107.8" y1="969.6" x2="107.8" y2="977.2" stroke="#000" stroke-width="2"/>
<text x="110.9" y="984.9" font-size="11.1" font-weight="bold" stroke="#000" stroke-width="0.4" text-anchor="end" transform="rotate(-45 110.9 984.9)">asciminib 10nM</text>
<line x1="130.25" y1="969.6" x2="130.25" y2="977.2" stroke="#000" stroke-width="2"/>
<text x="133.35" y="984.9" font-size="11.1" font-weight="bold" stroke="#000" stroke-width="0.4" text-anchor="end" transform="rotate(-45 133.35 984.9)">vitamin K2 10µM</text>
<line x1="152.6" y1="969.6" x2="152.6" y2="977.2" stroke="#000" stroke-width="2"/>
<text x="155.7" y="984.9" font-size="11.1" font-weight="bold" stroke="#000" stroke-width="0.4" text-anchor="end" transform="rotate(-45 155.7 984.9)">asc + VK2</text>
<text x="38.6" y="898.8" font-size="11.4" font-weight="bold" stroke="#000" stroke-width="0.4" text-anchor="middle" transform="rotate(-90 38.6 898.8)">cell population (%)</text>
<text x="119.2" y="809.6" font-size="14.2" font-weight="bold" stroke="#000" stroke-width="0.4" text-anchor="middle">K562</text>
<text x="119.5" y="1059.2" font-size="11.6" font-weight="bold" stroke="#000" stroke-width="0.4" text-anchor="middle">24h</text>
<rect x="230" y="875.1" width="15.4" height="95.9" fill="#000"/>
<rect x="232.3" y="877.4" width="10.8" height="13" fill="#b4b4b4"/>
<rect x="232.3" y="893" width="10.8" height="19.3" fill="#535353"/>
<rect x="232.3" y="914.9" width="10.8" height="53.6" fill="#5c5c5c"/>
<rect x="251.6" y="874.5" width="16" height="96.5" fill="#000"/>
<rect x="253.9" y="876.8" width="11.4" height="4.3" fill="#b4b4b4"/>
<rect x="253.9" y="883.7" width="11.4" height="15.2" fill="#535353"/>
<rect x="253.9" y="901.5" width="11.4" height="54.7" fill="#5c5c5c"/>
<rect x="273.7" y="875.2" width="16" height="95.8" fill="#000"/>
<rect x="276" y="877.5" width="11.4" height="9.4" fill="#b4b4b4"/>
<rect x="276" y="889.5" width="11.4" height="17.6" fill="#535353"/>
<rect x="276" y="909.7" width="11.4" height="58.9" fill="#5c5c5c"/>
<rect x="295.8" y="871.1" width="16.2" height="99.9" fill="#000"/>
<rect x="298.1" y="874.9" width="11.6" height="5.7" fill="#535353"/>
<rect x="298.1" y="883.2" width="11.6" height="28.8" fill="#5c5c5c"/>
<line x1="300.3" y1="878.3" x2="307.5" y2="878.3" stroke="#000" stroke-width="0.8"/>
<line x1="303.9" y1="878.3" x2="303.9" y2="880.8" stroke="#000" stroke-width="0.8"/>
<line x1="300.3" y1="910.3" x2="307.5" y2="910.3" stroke="#000" stroke-width="0.8"/>
<line x1="303.9" y1="910.3" x2="303.9" y2="912" stroke="#000" stroke-width="0.8"/>
<line x1="223" y1="827.5" x2="223" y2="972.2" stroke="#000" stroke-width="2.4"/>
<line x1="221.8" y1="971" x2="320" y2="971" stroke="#000" stroke-width="2.4"/>
<line x1="216" y1="829.2" x2="223" y2="829.2" stroke="#000" stroke-width="1.9"/>
<text x="215.5" y="833.3" font-size="11.3" font-weight="bold" stroke="#000" stroke-width="0.4" text-anchor="end">150</text>
<line x1="216" y1="876.3" x2="223" y2="876.3" stroke="#000" stroke-width="1.9"/>
<text x="215.5" y="880.4" font-size="11.3" font-weight="bold" stroke="#000" stroke-width="0.4" text-anchor="end">100</text>
<line x1="216" y1="923.7" x2="223" y2="923.7" stroke="#000" stroke-width="1.9"/>
<text x="215.5" y="927.8" font-size="11.3" font-weight="bold" stroke="#000" stroke-width="0.4" text-anchor="end">50</text>
<line x1="216" y1="971" x2="223" y2="971" stroke="#000" stroke-width="1.9"/>
<text x="215.5" y="975.1" font-size="11.3" font-weight="bold" stroke="#000" stroke-width="0.4" text-anchor="end">0</text>
<line x1="237.7" y1="971" x2="237.7" y2="978.6" stroke="#000" stroke-width="2"/>
<text x="240.8" y="986.3" font-size="11.1" font-weight="bold" stroke="#000" stroke-width="0.4" text-anchor="end" transform="rotate(-45 240.8 986.3)">(-)</text>
<line x1="259.6" y1="971" x2="259.6" y2="978.6" stroke="#000" stroke-width="2"/>
<text x="262.7" y="986.3" font-size="11.1" font-weight="bold" stroke="#000" stroke-width="0.4" text-anchor="end" transform="rotate(-45 262.7 986.3)">asciminib 10nM</text>
<line x1="281.7" y1="971" x2="281.7" y2="978.6" stroke="#000" stroke-width="2"/>
<text x="284.8" y="986.3" font-size="11.1" font-weight="bold" stroke="#000" stroke-width="0.4" text-anchor="end" transform="rotate(-45 284.8 986.3)">vitamin K2 10µM</text>
<line x1="303.9" y1="971" x2="303.9" y2="978.6" stroke="#000" stroke-width="2"/>
<text x="307" y="986.3" font-size="11.1" font-weight="bold" stroke="#000" stroke-width="0.4" text-anchor="end" transform="rotate(-45 307 986.3)">asc + VK2</text>
<text x="192" y="900.5" font-size="11.4" font-weight="bold" stroke="#000" stroke-width="0.4" text-anchor="middle" transform="rotate(-90 192 900.5)">cell population (%)</text>
<text x="270.6" y="812.6" font-size="14.2" font-weight="bold" stroke="#000" stroke-width="0.4" text-anchor="middle">K562</text>
<text x="271" y="1060.2" font-size="11.6" font-weight="bold" stroke="#000" stroke-width="0.4" text-anchor="middle">48h</text>
<line x1="398.1" y1="877.4" x2="398.1" y2="880.4" stroke="#000" stroke-width="0.8"/>
<line x1="394.6" y1="877.4" x2="401.6" y2="877.4" stroke="#000" stroke-width="0.8"/>
<rect x="390.4" y="879.2" width="15.4" height="92.5" fill="#000"/>
<rect x="392.7" y="881.5" width="10.8" height="24.7" fill="#b4b4b4"/>
<rect x="392.7" y="908.8" width="10.8" height="24.6" fill="#535353"/>
<rect x="392.7" y="936" width="10.8" height="34.2" fill="#5c5c5c"/>
<line x1="394.5" y1="930.6" x2="401.7" y2="930.6" stroke="#000" stroke-width="0.8"/>
<line x1="398.1" y1="930.6" x2="398.1" y2="934.7" stroke="#000" stroke-width="0.8"/>
<line x1="394.5" y1="937.2" x2="401.7" y2="937.2" stroke="#000" stroke-width="0.8"/>
<line x1="398.1" y1="937.2" x2="398.1" y2="934.7" stroke="#000" stroke-width="0.8"/>
<line x1="420.3" y1="876.8" x2="420.3" y2="879.8" stroke="#000" stroke-width="0.8"/>
<line x1="416.8" y1="876.8" x2="423.8" y2="876.8" stroke="#000" stroke-width="0.8"/>
<rect x="412.5" y="878.1" width="15.6" height="93.6" fill="#000"/>
<rect x="414.8" y="880.4" width="11" height="21.7" fill="#b4b4b4"/>
<rect x="414.8" y="904.7" width="11" height="21.7" fill="#535353"/>
<rect x="414.8" y="929" width="11" height="41.8" fill="#5c5c5c"/>
<line x1="416.7" y1="925.4" x2="423.9" y2="925.4" stroke="#000" stroke-width="0.8"/>
<line x1="420.3" y1="925.4" x2="420.3" y2="927.7" stroke="#000" stroke-width="0.8"/>
<line x1="416.7" y1="901.2" x2="423.9" y2="901.2" stroke="#000" stroke-width="0.8"/>
<line x1="420.3" y1="901.2" x2="420.3" y2="903.4" stroke="#000" stroke-width="0.8"/>
<line x1="442.25" y1="877.8" x2="442.25" y2="880.8" stroke="#000" stroke-width="0.8"/>
<line x1="438.75" y1="877.8" x2="445.75" y2="877.8" stroke="#000" stroke-width="0.8"/>
<rect x="434.4" y="879.2" width="15.7" height="92.5" fill="#000"/>
<rect x="436.7" y="881.5" width="11.1" height="24.2" fill="#b4b4b4"/>
<rect x="436.7" y="908.3" width="11.1" height="24.1" fill="#535353"/>
<rect x="436.7" y="935" width="11.1" height="35.2" fill="#5c5c5c"/>
<line x1="438.65" y1="930.6" x2="445.85" y2="930.6" stroke="#000" stroke-width="0.8"/>
<line x1="442.25" y1="930.6" x2="442.25" y2="933.7" stroke="#000" stroke-width="0.8"/>
<line x1="438.65" y1="936.4" x2="445.85" y2="936.4" stroke="#000" stroke-width="0.8"/>
<line x1="442.25" y1="936.4" x2="442.25" y2="933.7" stroke="#000" stroke-width="0.8"/>
<rect x="456.4" y="878.2" width="15.6" height="93.5" fill="#000"/>
<rect x="458.7" y="880.5" width="11" height="18.4" fill="#b4b4b4"/>
<rect x="458.7" y="901.5" width="11" height="17.7" fill="#535353"/>
<rect x="458.7" y="921.8" width="11" height="49" fill="#5c5c5c"/>
<line x1="383.3" y1="827.5" x2="383.3" y2="972.9" stroke="#000" stroke-width="2.4"/>
<line x1="382.1" y1="971.7" x2="480" y2="971.7" stroke="#000" stroke-width="2.4"/>
<line x1="376.3" y1="829.2" x2="383.3" y2="829.2" stroke="#000" stroke-width="1.9"/>
<text x="375.8" y="833.3" font-size="11.3" font-weight="bold" stroke="#000" stroke-width="0.4" text-anchor="end">150</text>
<line x1="376.3" y1="876.3" x2="383.3" y2="876.3" stroke="#000" stroke-width="1.9"/>
<text x="375.8" y="880.4" font-size="11.3" font-weight="bold" stroke="#000" stroke-width="0.4" text-anchor="end">100</text>
<line x1="376.3" y1="924.2" x2="383.3" y2="924.2" stroke="#000" stroke-width="1.9"/>
<text x="375.8" y="928.3" font-size="11.3" font-weight="bold" stroke="#000" stroke-width="0.4" text-anchor="end">50</text>
<line x1="376.3" y1="971.7" x2="383.3" y2="971.7" stroke="#000" stroke-width="1.9"/>
<text x="375.8" y="975.8" font-size="11.3" font-weight="bold" stroke="#000" stroke-width="0.4" text-anchor="end">0</text>
<line x1="398.1" y1="971.7" x2="398.1" y2="979.3" stroke="#000" stroke-width="2"/>
<text x="401.2" y="987" font-size="11.1" font-weight="bold" stroke="#000" stroke-width="0.4" text-anchor="end" transform="rotate(-45 401.2 987)">(-)</text>
<line x1="420.3" y1="971.7" x2="420.3" y2="979.3" stroke="#000" stroke-width="2"/>
<text x="423.4" y="987" font-size="11.1" font-weight="bold" stroke="#000" stroke-width="0.4" text-anchor="end" transform="rotate(-45 423.4 987)">asciminib 10nM</text>
<line x1="442.25" y1="971.7" x2="442.25" y2="979.3" stroke="#000" stroke-width="2"/>
<text x="445.35" y="987" font-size="11.1" font-weight="bold" stroke="#000" stroke-width="0.4" text-anchor="end" transform="rotate(-45 445.35 987)">vitamin K2 10µM</text>
<line x1="464.2" y1="971.7" x2="464.2" y2="979.3" stroke="#000" stroke-width="2"/>
<text x="467.3" y="987" font-size="11.1" font-weight="bold" stroke="#000" stroke-width="0.4" text-anchor="end" transform="rotate(-45 467.3 987)">asc + VK2</text>
<text x="352" y="900.8" font-size="11.4" font-weight="bold" stroke="#000" stroke-width="0.4" text-anchor="middle" transform="rotate(-90 352 900.8)">cell population (%)</text>
<text x="431.5" y="812.6" font-size="14.2" font-weight="bold" stroke="#000" stroke-width="0.4" text-anchor="middle">K562 PR</text>
<text x="431" y="1061.3" font-size="11.6" font-weight="bold" stroke="#000" stroke-width="0.4" text-anchor="middle">24h</text>
<rect x="549.3" y="873.2" width="15.1" height="96.6" fill="#000"/>
<rect x="551.6" y="875.5" width="10.5" height="13.4" fill="#b4b4b4"/>
<rect x="551.6" y="891.5" width="10.5" height="18" fill="#535353"/>
<rect x="551.6" y="912.1" width="10.5" height="51.9" fill="#5c5c5c"/>
<line x1="578.9" y1="871.2" x2="578.9" y2="874.2" stroke="#000" stroke-width="0.8"/>
<line x1="575.4" y1="871.2" x2="582.4" y2="871.2" stroke="#000" stroke-width="0.8"/>
<rect x="571.1" y="872.2" width="15.6" height="97.6" fill="#000"/>
<rect x="573.4" y="874.5" width="11" height="7.4" fill="#b4b4b4"/>
<rect x="573.4" y="884.5" width="11" height="15.6" fill="#535353"/>
<rect x="573.4" y="902.7" width="11" height="57.8" fill="#5c5c5c"/>
<line x1="601.1" y1="871.6" x2="601.1" y2="874.6" stroke="#000" stroke-width="0.8"/>
<line x1="597.6" y1="871.6" x2="604.6" y2="871.6" stroke="#000" stroke-width="0.8"/>
<rect x="593.4" y="872.6" width="15.4" height="97.2" fill="#000"/>
<rect x="595.7" y="874.9" width="10.8" height="8.7" fill="#b4b4b4"/>
<rect x="595.7" y="886.2" width="10.8" height="15.9" fill="#535353"/>
<rect x="595.7" y="904.7" width="10.8" height="58.6" fill="#5c5c5c"/>
<line x1="597.5" y1="883.2" x2="604.7" y2="883.2" stroke="#000" stroke-width="0.8"/>
<line x1="601.1" y1="883.2" x2="601.1" y2="884.9" stroke="#000" stroke-width="0.8"/>
<rect x="615.4" y="867.4" width="16.2" height="102.4" fill="#000"/>
<rect x="617.7" y="872" width="11.6" height="5" fill="#535353"/>
<rect x="617.7" y="879.6" width="11.6" height="29.1" fill="#5c5c5c"/>
<line x1="619.9" y1="875.6" x2="627.1" y2="875.6" stroke="#000" stroke-width="0.8"/>
<line x1="623.5" y1="875.6" x2="623.5" y2="877.2" stroke="#000" stroke-width="0.8"/>
<line x1="619.9" y1="906.4" x2="627.1" y2="906.4" stroke="#000" stroke-width="0.8"/>
<line x1="623.5" y1="906.4" x2="623.5" y2="908.7" stroke="#000" stroke-width="0.8"/>
<line x1="541.9" y1="823.8" x2="541.9" y2="971" stroke="#000" stroke-width="2.4"/>
<line x1="540.7" y1="969.8" x2="639" y2="969.8" stroke="#000" stroke-width="2.4"/>
<line x1="534.9" y1="825.5" x2="541.9" y2="825.5" stroke="#000" stroke-width="1.9"/>
<text x="534.4" y="829.6" font-size="11.3" font-weight="bold" stroke="#000" stroke-width="0.4" text-anchor="end">150</text>
<line x1="534.9" y1="873.8" x2="541.9" y2="873.8" stroke="#000" stroke-width="1.9"/>
<text x="534.4" y="877.9" font-size="11.3" font-weight="bold" stroke="#000" stroke-width="0.4" text-anchor="end">100</text>
<line x1="534.9" y1="921.7" x2="541.9" y2="921.7" stroke="#000" stroke-width="1.9"/>
<text x="534.4" y="925.8" font-size="11.3" font-weight="bold" stroke="#000" stroke-width="0.4" text-anchor="end">50</text>
<line x1="534.9" y1="969.8" x2="541.9" y2="969.8" stroke="#000" stroke-width="1.9"/>
<text x="534.4" y="973.9" font-size="11.3" font-weight="bold" stroke="#000" stroke-width="0.4" text-anchor="end">0</text>
<line x1="556.85" y1="969.8" x2="556.85" y2="977.4" stroke="#000" stroke-width="2"/>
<text x="559.95" y="985.1" font-size="11.1" font-weight="bold" stroke="#000" stroke-width="0.4" text-anchor="end" transform="rotate(-45 559.95 985.1)">(-)</text>
<line x1="578.9" y1="969.8" x2="578.9" y2="977.4" stroke="#000" stroke-width="2"/>
<text x="582" y="985.1" font-size="11.1" font-weight="bold" stroke="#000" stroke-width="0.4" text-anchor="end" transform="rotate(-45 582 985.1)">asciminib 10nM</text>
<line x1="601.1" y1="969.8" x2="601.1" y2="977.4" stroke="#000" stroke-width="2"/>
<text x="604.2" y="985.1" font-size="11.1" font-weight="bold" stroke="#000" stroke-width="0.4" text-anchor="end" transform="rotate(-45 604.2 985.1)">vitamin K2 10µM</text>
<line x1="623.5" y1="969.8" x2="623.5" y2="977.4" stroke="#000" stroke-width="2"/>
<text x="626.6" y="985.1" font-size="11.1" font-weight="bold" stroke="#000" stroke-width="0.4" text-anchor="end" transform="rotate(-45 626.6 985.1)">asc + VK2</text>
<text x="511.5" y="898.3" font-size="11.4" font-weight="bold" stroke="#000" stroke-width="0.4" text-anchor="middle" transform="rotate(-90 511.5 898.3)">cell population (%)</text>
<text x="590.5" y="808.8" font-size="14.2" font-weight="bold" stroke="#000" stroke-width="0.4" text-anchor="middle">K562 PR</text>
<text x="590" y="1060" font-size="11.6" font-weight="bold" stroke="#000" stroke-width="0.4" text-anchor="middle">48h</text>
<rect x="671.55" y="832.95" width="14.4" height="5.6" fill="#000" stroke="#000" stroke-width="2.5"/>
<rect x="670.3" y="839.3" width="1.3" height="1.5" fill="#000"/>
<text x="695.1" y="839.3" font-size="11.55" stroke="#000" stroke-width="0.32">Sub-G1</text>
<rect x="671.55" y="851.75" width="14.4" height="5.4" fill="#5c5c5c" stroke="#000" stroke-width="2.5"/>
<rect x="670.3" y="857.9" width="1.3" height="1.5" fill="#000"/>
<text x="695.1" y="857.9" font-size="11.55" stroke="#000" stroke-width="0.32">G1</text>
<rect x="671.55" y="870.75" width="14.4" height="5.5" fill="#535353" stroke="#000" stroke-width="2.5"/>
<rect x="670.3" y="877" width="1.3" height="1.5" fill="#000"/>
<text x="695.1" y="877" font-size="11.55" stroke="#000" stroke-width="0.32">S</text>
<rect x="671.55" y="889.55" width="14.4" height="5.5" fill="#b4b4b4" stroke="#000" stroke-width="2.5"/>
<rect x="670.3" y="895.8" width="1.3" height="1.5" fill="#000"/>
<text x="695.1" y="895.8" font-size="11.55" stroke="#000" stroke-width="0.32">G2/M</text>
</g>
</svg>
</body>
</html>
